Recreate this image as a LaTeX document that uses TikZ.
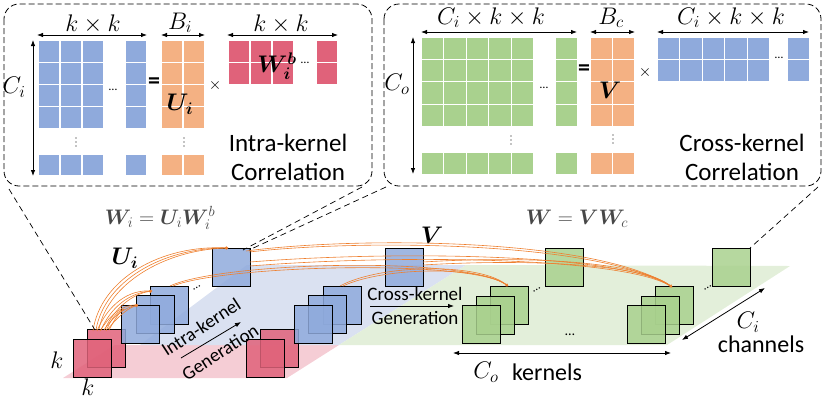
\RequirePackage{fix-cm}
\documentclass[tikz,border=0pt]{standalone}
\usepackage[no-math]{fontspec}
\setmainfont{Carlito}
\usepackage{amsmath,bm}
\usetikzlibrary{arrows.meta,calc}
\definecolor{cblue}{HTML}{8FAADC}
\definecolor{cgreen}{HTML}{A9D18E}
\definecolor{corange}{HTML}{F4B183}
\definecolor{cred}{HTML}{E0627A}
\definecolor{pblue}{HTML}{DAE1F1}
\definecolor{pgreen}{HTML}{E3EFDA}
\definecolor{ppink}{HTML}{F5CDD5}
\definecolor{arcc}{HTML}{EE8030}
\newcommand\cellgrid[7]{%
  \foreach \ci in {1,...,#4}{\foreach \cj in {1,...,#5}{%
    \fill[#1,draw=white,line width=1.3pt] ({#2+(\ci-1)*#6},{#3+(\cj-1)*#7}) rectangle ++(#6,#7);}}}
\newcommand\vdotsat[2]{%
  \foreach \dy in {-4,0,4}{\fill[black] (#1,{#2+\dy}) circle (0.6pt);}}
\begin{document}
\begin{tikzpicture}[x=1pt,y=-1pt,
  sq/.style={draw=black,line width=1pt,minimum width=38pt,minimum height=38pt,inner sep=0pt,outer sep=0pt,fill opacity=0.85},
  dim/.style={{Latex[length=6pt,width=4.5pt]}-{Latex[length=6pt,width=4.5pt]},line width=0.8pt},
  arcl/.style={draw=arcc,line width=0.6pt},
  arct/.style={arcl,-{Circle[length=3.2pt]}},
  zoomline/.style={dash pattern=on 6pt off 4pt,line width=0.7pt},
  panel/.style={draw=black,dash pattern=on 6pt off 3pt,line width=0.8pt,rounded corners=15pt},
  big/.style={font=\fontsize{25}{29}\selectfont,inner sep=0pt,align=center},
  mth/.style={font=\fontsize{24}{28}\selectfont,inner sep=0pt},
  mid/.style={font=\fontsize{19}{23}\selectfont,inner sep=0pt,align=center},
  dots/.style={font=\fontsize{12}{12}\selectfont,inner sep=0pt}]
\useasboundingbox (0,0) rectangle (824,400);

% ---------- panels ----------
\draw[panel] (4,4) rectangle (372,186);
\draw[panel] (384,4) rectangle (821,186);

% panel 1 grids
\cellgrid{cblue}{38}{40}{3}{4}{22}{22.2}
\cellgrid{cblue}{125}{40}{1}{4}{22}{22.2}
\cellgrid{cblue}{38}{154}{3}{1}{22}{22}
\cellgrid{cblue}{125}{154}{1}{1}{22}{22}
\cellgrid{corange}{161}{40}{2}{4}{22}{22.2}
\cellgrid{corange}{161}{154}{2}{1}{22}{22}
\cellgrid{cred}{228}{40}{3}{2}{22}{22.2}
\cellgrid{cred}{316}{40}{1}{2}{22}{22.2}

% panel 2 grids
\cellgrid{cgreen}{421}{37}{5}{4}{22.6}{22.4}
\cellgrid{cgreen}{555}{37}{1}{4}{22.2}{22.4}
\cellgrid{cgreen}{421}{152}{5}{1}{22.6}{22.2}
\cellgrid{cgreen}{555}{152}{1}{1}{22.2}{22.2}
\cellgrid{corange}{590}{37}{2}{4}{22.5}{22.4}
\cellgrid{corange}{590}{152}{2}{1}{22.5}{22.2}
\cellgrid{cblue}{657}{37}{5}{2}{22.6}{22.4}
\cellgrid{cblue}{787}{37}{1}{2}{22.2}{22.4}

% panel 1 dimension arrows
\coordinate (a1l) at (37,35);  \coordinate (a1r) at (147,35);
\coordinate (a2l) at (161,35); \coordinate (a2r) at (205,35);
\coordinate (a3l) at (227,35); \coordinate (a3r) at (338,35);
\coordinate (a4t) at (33,40);  \coordinate (a4b) at (33,176);
\draw[dim] (a1l) -- (a1r);
\draw[dim] (a2l) -- (a2r);
\draw[dim] (a3l) -- (a3r);
\draw[dim] (a4t) -- (a4b);
\node[mth,anchor=base] (kk1) at (93,31) {$k\times k$};
\node[mth,anchor=base] (bi) at (180,29) {$B_i$};
\node[mth,anchor=base] (kk2) at (281,31) {$k\times k$};
\node[mth] (ci1) at (14,87) {$C_i$};
\node[font=\fontsize{24}{24}\selectfont\bfseries,inner sep=0pt] (eq1) at (154,83) {=};
\node[font=\fontsize{16}{16}\selectfont,inner sep=0pt] (x1) at (215,85) {$\times$};
\node[dots] (d1) at (113,90) {\dots};
\vdotsat{76}{142}
\vdotsat{184}{142}
\node[dots] (d4) at (305,63) {\dots};
\node[mth] (ui) at (180,104) {$\bm{U}_{\bm{i}}$};
\node[mth] (wib) at (277,66) {$\bm{W}_{\bm{i}}^{\bm{b}}$};
\node[big] (intra) at (288,157) {Intra-kernel\\Correlation};

% panel 2 dimension arrows
\coordinate (b1l) at (421,32); \coordinate (b1r) at (577,32);
\coordinate (b2l) at (590,32); \coordinate (b2r) at (635,32);
\coordinate (b3l) at (657,32); \coordinate (b3r) at (809,32);
\coordinate (b4t) at (413,37); \coordinate (b4b) at (413,174);
\draw[dim] (b1l) -- (b1r);
\draw[dim] (b2l) -- (b2r);
\draw[dim] (b3l) -- (b3r);
\draw[dim] (b4t) -- (b4b);
\node[mth,anchor=base] (cikk1) at (491,24) {$C_i\times k\times k$};
\node[mth,anchor=base] (bc) at (611,24) {$B_c$};
\node[mth,anchor=base] (cikk2) at (731,24) {$C_i\times k\times k$};
\node[mth] (co1) at (397,84) {$C_o$};
\node[font=\fontsize{24}{24}\selectfont\bfseries,inner sep=0pt] (eq2) at (584,70) {=};
\node[font=\fontsize{16}{16}\selectfont,inner sep=0pt] (x2) at (645,72) {$\times$};
\node[dots] (e1) at (544,88) {\dots};
\vdotsat{511}{140}
\vdotsat{613}{139}
\node[dots] (e4) at (779,58) {\dots};
\node[mth] (vv) at (610,90) {$\bm{V}$};
\node[big] (cross) at (742,157) {Cross-kernel\\Correlation};

% ---------- floor planes ----------
\fill[ppink] (63,378) -- (287,378) -- (339,345) -- (115,345) -- cycle;
\fill[pblue] (140,345) -- (339,345) -- (466,265) -- (247,265) -- cycle;
\fill[pgreen] (339,345) -- (667,345) -- (790,266) -- (466,265) -- cycle;

% ---------- kernels ----------
\node[sq,fill=cred] (r1b) at (106.5,348) {};
\node[sq,fill=cred] (r1f) at (92.5,358) {};
\node[sq,fill=cblue] (b1t) at (231.5,267) {};
\node[sq,fill=cblue] (b1c) at (169.5,305) {};
\node[sq,fill=cblue] (b1m) at (155,314.5) {};
\node[sq,fill=cblue] (b1a) at (140.5,324) {};
\node[sq,fill=cred] (r2b) at (279,348) {};
\node[sq,fill=cred] (r2f) at (265.5,358) {};
\node[sq,fill=cblue] (b2t) at (404.5,267) {};
\node[sq,fill=cblue] (b2c) at (342,305) {};
\node[sq,fill=cblue] (b2m) at (327.5,314.5) {};
\node[sq,fill=cblue] (b2a) at (313,324) {};
\node[sq,fill=cgreen] (g1t) at (564,267.5) {};
\node[sq,fill=cgreen] (g1c) at (509.5,305.5) {};
\node[sq,fill=cgreen] (g1m) at (495.5,315) {};
\node[sq,fill=cgreen] (g1a) at (481,324) {};
\node[sq,fill=cgreen] (g2t) at (731,267.5) {};
\node[sq,fill=cgreen] (g2c) at (674.5,305.5) {};
\node[sq,fill=cgreen] (g2m) at (660.5,315) {};
\node[sq,fill=cgreen] (g2a) at (646.5,324) {};

\node[dots,rotate=30] (f1) at (197,288) {\dots};
\node[dots,rotate=30] (f2) at (537,290) {\dots};
\node[dots,rotate=30] (f3) at (708,288) {\dots};
\node[font=\fontsize{14}{14}\selectfont,inner sep=0pt] (f4) at (570,335) {\dots};

% labels on floor
\node[mth] (kl) at (57,360) {$k$};
\node[mth,anchor=base] (kb) at (88,395) {$k$};
\node[mth] (uib) at (125,258) {$\bm{U}_{\bm{i}}$};
\node[mth] (vb) at (432,235) {$\bm{V}$};
\node[font=\fontsize{21}{21}\selectfont,inner sep=0pt,text=black!72] (eqa) at (160,218) {$\bm{W}_i=\bm{U}_i\bm{W}_i^b$};
\node[font=\fontsize{21}{21}\selectfont,inner sep=0pt,text=black!72] (eqb) at (577,219) {$\bm{W}=\bm{V}\bm{W}_c$};

\node[mid,rotate=33] (ig1) at (201,327) {Intra-kernel};
\node[mid,rotate=33] (ig2) at (220,352) {Generation};
\coordinate (ia1) at (181,358); \coordinate (ia2) at (241,322);
\draw[-{Latex[length=6pt,width=4.5pt]},line width=0.8pt] (ia1) -- (ia2);
\node[mid] (cg1) at (415,294) {Cross-kernel};
\node[mid] (cg2) at (415,318) {Generation};
\coordinate (ca1) at (370,306); \coordinate (ca2) at (454,306);
\draw[-{Latex[length=6pt,width=4.5pt]},line width=0.8pt] (ca1) -- (ca2);

\coordinate (kol) at (453,353); \coordinate (kor) at (671,353);
\draw[dim] (kol) -- (kor);
\node[mth] (cok) at (486,372) {$C_o$};
\node[font=\fontsize{24}{28}\selectfont,inner sep=0pt] (kern) at (547,372) {kernels};
\coordinate (chl) at (682,340); \coordinate (chr) at (765,288);
\draw[dim] (chl) -- (chr);
\node[mth] (cic) at (748,322) {$C_i$};
\node[font=\fontsize{24}{28}\selectfont,inner sep=0pt] (chan) at (761,344) {channels};

% ---------- orange connections ----------
\draw[arcl] (93,331) .. controls (100,280) and (160,244) .. (228,248);
\draw[arcl] (96,330) .. controls (104,282) and (162,247) .. (228,248);
\draw[arct] (99,329) .. controls (108,284) and (164,250) .. (228,248);
\draw[arcl] (97,331) .. controls (108,305) and (128,289) .. (152,291);
\draw[arcl] (101,330) .. controls (111,307) and (130,292) .. (152,291);
\draw[arct] (105,329) .. controls (114,309) and (132,294) .. (152,291);
\draw[arcl] (100,331) .. controls (110,315) and (122,304) .. (138,305);
\draw[arcl] (104,330) .. controls (113,317) and (124,307) .. (138,305);
\draw[arct] (108,329) .. controls (116,319) and (126,309) .. (138,305);
\draw[arcl] (106,331) .. controls (110,322) and (115,312) .. (124,309);
\draw[arcl] (109,330) .. controls (113,323) and (117,314) .. (124,309);
\draw[arcl] (170,286) .. controls (220,262) and (470,255) .. (508,286);
\draw[arct] (173,286) .. controls (224,265) and (470,259) .. (508,286);
\draw[arcl] (340,286) .. controls (380,264) and (482,262) .. (508,286);
\draw[arcl] (343,286) .. controls (383,267) and (482,265) .. (508,286);
\draw[arcl] (246,251) .. controls (360,236) and (600,238) .. (672,287);
\draw[arcl] (249,252) .. controls (362,239) and (600,241) .. (672,287);
\draw[arcl] (250,262) .. controls (400,250) and (628,254) .. (672,287);
\draw[arcl] (250,266) .. controls (400,254) and (628,257) .. (672,287);
\draw[arcl] (423,262) .. controls (520,256) and (640,260) .. (672,287);
\draw[arct] (423,265) .. controls (520,259) and (640,263) .. (672,287);

% ---------- zoom lines ----------
\coordinate (z1a) at (9,189);   \coordinate (z1b) at (95,330);
\coordinate (z2a) at (362,187); \coordinate (z2b) at (243,250);
\coordinate (z3a) at (386,187); \coordinate (z3b) at (249,250);
\coordinate (z4a) at (818,187); \coordinate (z4b) at (750,248);
\draw[zoomline] (z1a) -- (z1b);
\draw[zoomline] (z2a) -- (z2b);
\draw[zoomline] (z3a) -- (z3b);
\draw[zoomline] (z4a) -- (z4b);
\end{tikzpicture}
\end{document}
